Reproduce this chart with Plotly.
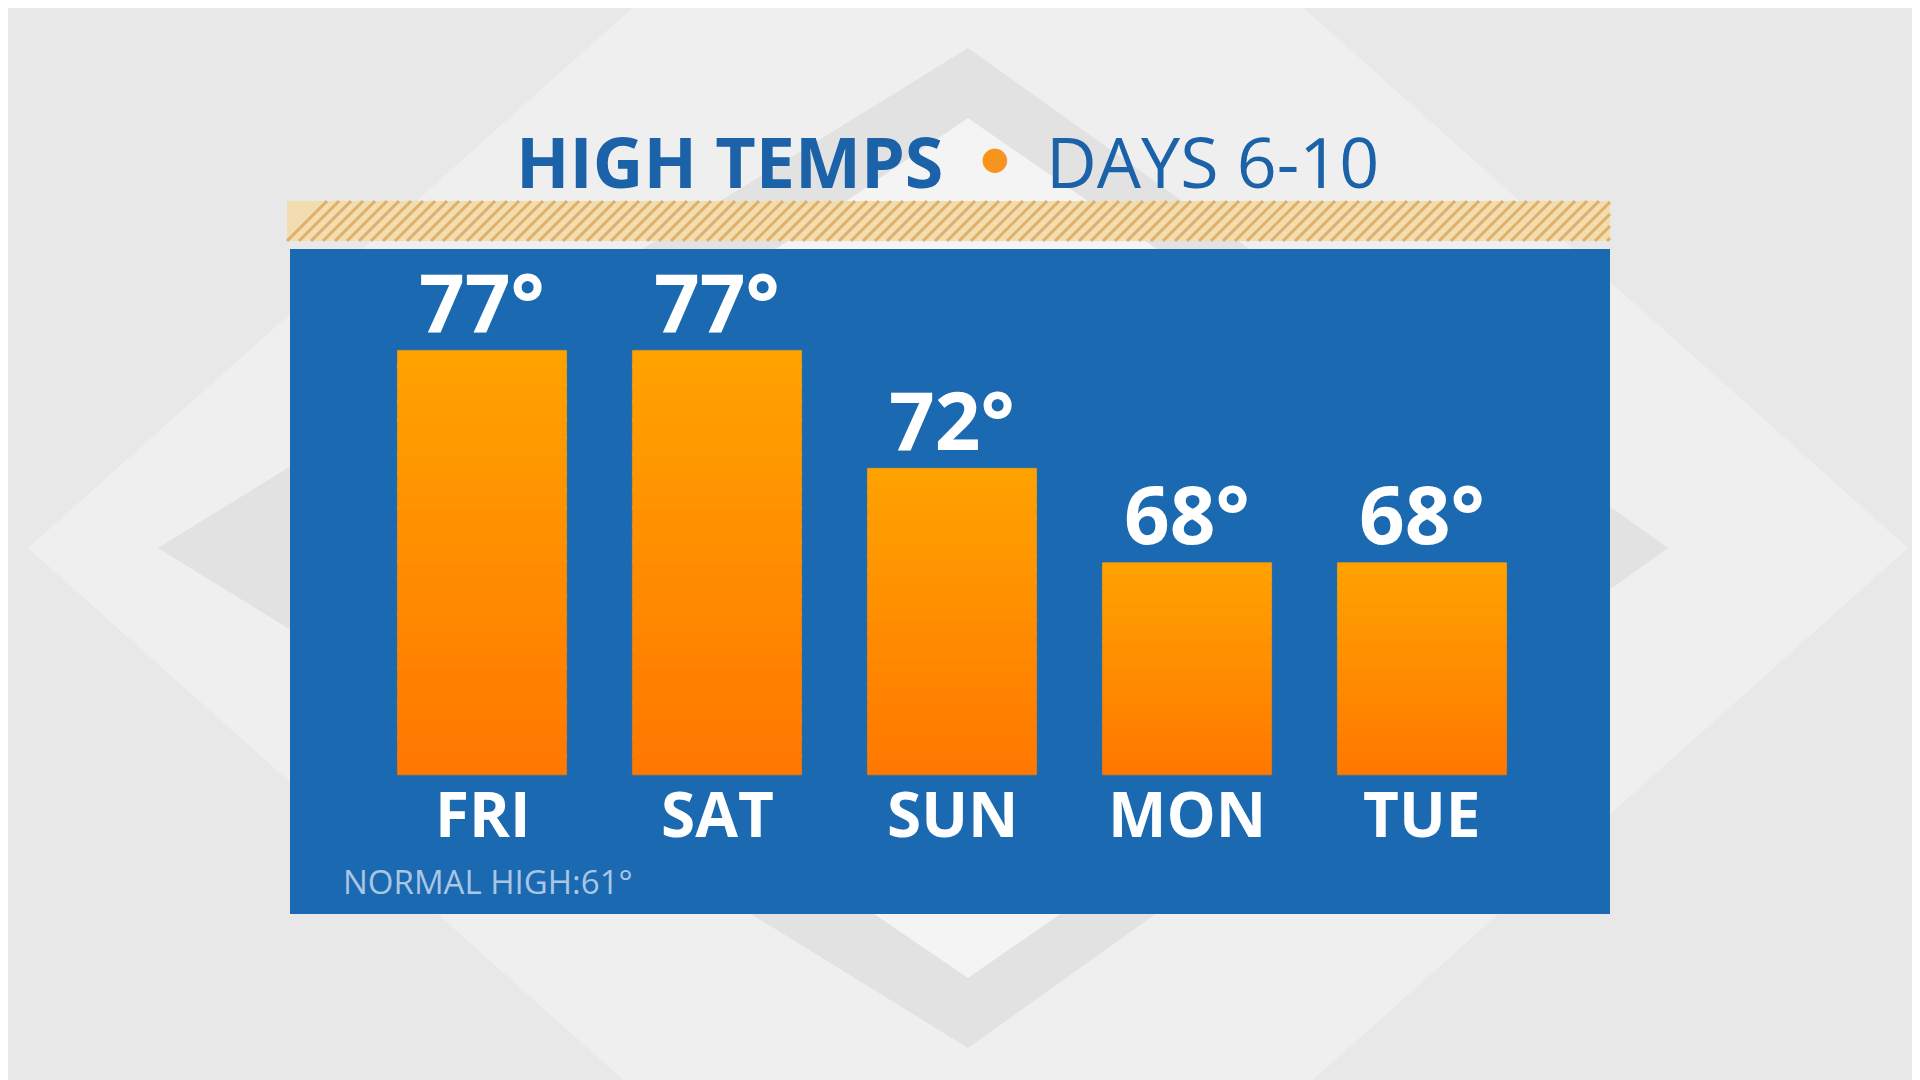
import plotly.graph_objects as go

days = ["FRI", "SAT", "SUN", "MON", "TUE"]
highs = [77, 77, 72, 68, 68]
normal_high = 61
base_val = 59

W, H = 1920, 1080
fig = go.Figure()

# gradient bars via stacked segments
N = 24
top_c = (255, 163, 0)
bot_c = (255, 120, 0)
for k in range(N):
    f = (k + 0.5) / N
    c = tuple(int(bot_c[i] + (top_c[i] - bot_c[i]) * f) for i in range(3))
    seg_base = [base_val + (h - base_val) * k / N for h in highs]
    seg_h = [(h - base_val) / N * 1.15 if k < N - 1 else (h - base_val) / N for h in highs]
    fig.add_bar(x=list(range(len(days))), y=seg_h, base=seg_base, width=0.72,
                marker=dict(color="rgb(%d,%d,%d)" % c, line=dict(width=0.6, color="rgb(%d,%d,%d)" % c)),
                hoverinfo="skip", showlegend=False)

ann = []
for i, (d, h) in enumerate(zip(days, highs)):
    ann.append(dict(x=i, y=h, text=f"<b>{h}°</b>", showarrow=False, yshift=50, yanchor="middle",
                    font=dict(family="Open Sans", size=80, color="white")))
    ann.append(dict(x=i, y=base_val, text=f"<b>{d}</b>", showarrow=False, yshift=-38, yanchor="middle",
                    font=dict(family="Open Sans", size=62, color="white")))
ann += [
    dict(xref="paper", yref="paper", x=937/W, y=1-153/H, xanchor="right", yanchor="middle", showarrow=False,
         text="<b>HIGH TEMPS</b>", font=dict(family="Open Sans", size=70, color="#1b62a8")),
    dict(xref="paper", yref="paper", x=987/W, y=1-150/H, yanchor="middle", showarrow=False,
         text="●", font=dict(family="DejaVu Sans", size=32, color="#f7941d")),
    dict(xref="paper", yref="paper", x=1036/W, y=1-153/H, xanchor="left", yanchor="middle", showarrow=False,
         text="DAYS 6-10", font=dict(family="Open Sans", size=70, color="#1b62a8")),
    dict(xref="paper", yref="paper", x=333/W, y=1-873/H, xanchor="left", yanchor="middle", showarrow=False,
         text=f"NORMAL HIGH:{normal_high}°", font=dict(family="Open Sans", size=33, color="#a9c6e4")),
]

shapes = []
def P(x, y):
    return f"{x/W},{1-y/H}"
# background diamonds
shapes.append(dict(type="path", xref="paper", yref="paper", layer="below", line_width=0,
                   fillcolor="#efefef", path=f"M{P(960,-300)} L{P(1900,540)} L{P(960,1380)} L{P(20,540)} Z"))
shapes.append(dict(type="path", xref="paper", yref="paper", layer="below", line_width=0,
                   fillcolor="#e2e2e2", path=f"M{P(960,40)} L{P(1660,540)} L{P(960,1040)} L{P(150,540)} Z"))
shapes.append(dict(type="path", xref="paper", yref="paper", layer="below", line_width=0,
                   fillcolor="#f4f4f4", path=f"M{P(960,110)} L{P(1580,540)} L{P(960,970)} L{P(330,540)} Z"))
# blue panel
shapes.append(dict(type="rect", xref="paper", yref="paper", layer="below", line_width=0,
                   fillcolor="#1b69b0", x0=282/W, x1=1602/W, y0=1-906/H, y1=1-241/H))
# hatched band
shapes.append(dict(type="rect", xref="paper", yref="paper", layer="below", line_width=0,
                   fillcolor="#f3ddb0", x0=279/W, x1=1602/W, y0=1-233/H, y1=1-193/H))
x = 279
while x < 1602:
    x1 = min(x + 40, 1602)
    shapes.append(dict(type="line", xref="paper", yref="paper", layer="below",
                       line=dict(color="#ddb266", width=3),
                       x0=x/W, y0=1-233/H, x1=x1/W, y1=1-(233-(x1-x))/H))
    x += 12

fig.update_layout(
    width=W, height=H, margin=dict(l=0, r=0, t=0, b=0),
    paper_bgcolor="#e8e8e8", plot_bgcolor="rgba(0,0,0,0)", barmode="overlay",
    xaxis=dict(domain=[282/W, 1602/W], range=[-0.817, 4.8], visible=False, fixedrange=True),
    yaxis=dict(domain=[1-906/H, 1-241/H], range=[53.1, 81.3], visible=False, fixedrange=True),
    annotations=ann, shapes=shapes, showlegend=False,
)
fig.write_html("out.html")
